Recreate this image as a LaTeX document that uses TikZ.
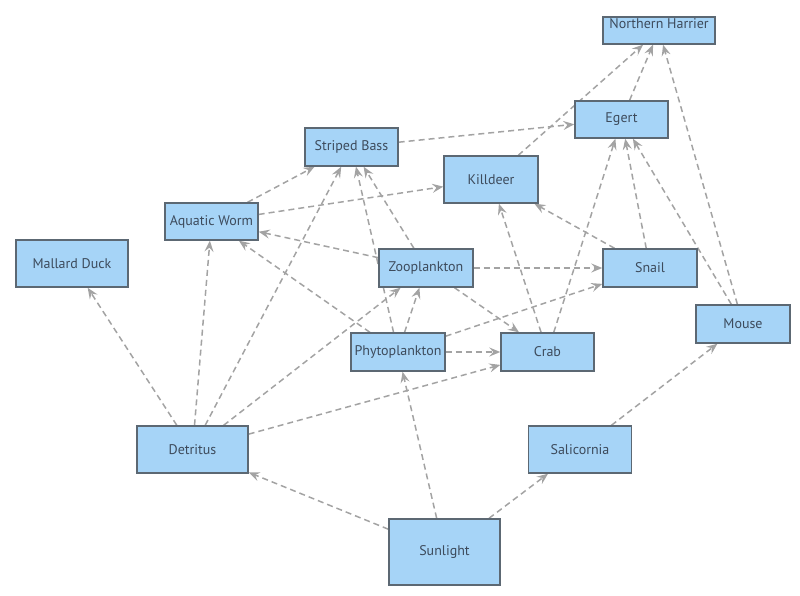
\documentclass[tikz,border=0pt]{standalone}
\usepackage{fontspec}
\setmainfont{PT Sans}
\usetikzlibrary{arrows.meta,backgrounds}

\definecolor{boxfill}{HTML}{A6D4F7}
\definecolor{boxline}{HTML}{5C6873}
\definecolor{arrowgray}{HTML}{A3A3A3}
\definecolor{textgray}{HTML}{3D4B5C}

\tikzset{
  species/.style={draw=boxline,fill=boxfill,line width=1.4pt,text=textgray,
    inner sep=0pt,font=\fontsize{14}{16}\selectfont},
  feeds/.style={draw=arrowgray,line width=1.5pt,dash pattern=on 6pt off 4pt,
    -{Stealth[length=11pt,width=9pt,inset=4pt]}},
}

\begin{document}
\begin{tikzpicture}[x=1pt,y=-1pt]
    \useasboundingbox (0,0) rectangle (800,595);

    \node[species,minimum width=112,minimum height=27,text height=8pt,text depth=13pt] (Harrier) at (659,30.5){Northern Harrier};
    \node[species,minimum width=93,minimum height=37] (Egert) at (621.5,119.5){Egert};
    \node[species,minimum width=93,minimum height=38] (Bass) at (351.5,147){Striped Bass};
    \node[species,minimum width=94,minimum height=47] (Killdeer) at (491,179.5){Killdeer};
    \node[species,minimum width=93,minimum height=37] (Worm) at (211.5,221.5){Aquatic Worm};
    \node[species,minimum width=112,minimum height=47] (Duck) at (72,263.5){Mallard Duck};
    \node[species,minimum width=94,minimum height=38] (Zoo) at (426,268){Zooplankton};
    \node[species,minimum width=94,minimum height=38] (Snail) at (650,268){Snail};
    \node[species,minimum width=94,minimum height=38] (Mouse) at (743,324){Mouse};
    \node[species,minimum width=94,minimum height=38] (Phyto) at (398,352){Phytoplankton};
    \node[species,minimum width=93,minimum height=38] (Crab) at (547.5,352){Crab};
    \node[species,minimum width=111,minimum height=47] (Detritus) at (192.5,449.5){Detritus};
    \node[species,minimum width=103,minimum height=47] (Salicornia) at (580,449.5){Salicornia};
    \node[species,minimum width=111,minimum height=66] (Sun) at (444.5,552){Sunlight};

    \begin{scope}[on background layer]
    % energy in
    \draw (Sun) edge[feeds] (Detritus);
    \draw (Sun) edge[feeds] (Phyto);
    \draw (Sun) edge[feeds] (Salicornia);
    \draw (Salicornia) edge[feeds] (Mouse);
    % detritus
    \draw (Detritus) edge[feeds] (Duck);
    \draw (Detritus) edge[feeds] (Worm);
    \draw (Detritus) edge[feeds] (Bass);
    \draw (Detritus) edge[feeds] (Zoo);
    \draw (Detritus) edge[feeds] (Crab);
    % plankton
    \draw (Phyto) edge[feeds] (Crab);
    \draw (Phyto) edge[feeds] (Zoo);
    \draw (Phyto) edge[feeds] (Worm);
    \draw (Phyto) edge[feeds] (Bass);
    \draw (Phyto) edge[feeds] (Snail);
    \draw (Zoo) edge[feeds] (Snail);
    \draw (Zoo) edge[feeds] (Crab);
    \draw (Zoo) edge[feeds] (Worm);
    \draw (Zoo) edge[feeds] (Bass);
    % consumers
    \draw (Worm) edge[feeds] (Bass);
    \draw (Worm) edge[feeds] (Killdeer);
    \draw (Bass) edge[feeds] (Egert);
    \draw (Crab) edge[feeds] (Killdeer);
    \draw (Crab) edge[feeds] (Egert);
    \draw (Snail) edge[feeds] (Killdeer);
    \draw (Snail) edge[feeds] (Egert);
    \draw (Mouse) edge[feeds] (Egert);
    \draw (Mouse) edge[feeds] (Harrier);
    \draw (Killdeer) edge[feeds] (Harrier);
    \draw (Egert) edge[feeds] (Harrier);
    \end{scope}
  \end{tikzpicture}
\end{document}
